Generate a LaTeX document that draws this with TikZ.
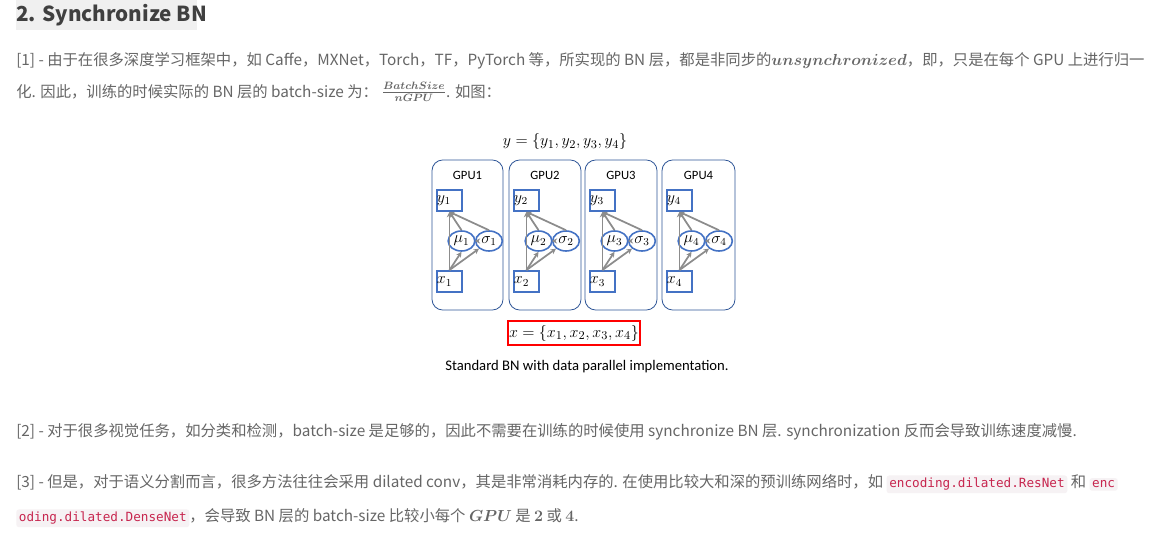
\documentclass[tikz,border=0pt]{standalone}
\usepackage{amsmath}
\usepackage{fontspec}
\setmainfont{Noto Sans CJK SC}
\newfontfamily\calfont{Carlito}
\setmonofont{DejaVu Sans Mono}
\usetikzlibrary{arrows.meta,shapes.geometric}
\definecolor{txt}{HTML}{666666}
\definecolor{bl}{HTML}{4472C4}
\definecolor{fr}{HTML}{2F5597}
\definecolor{codebg}{HTML}{F6F2F4}
\definecolor{codefg}{HTML}{C7254E}
\newcommand{\cd}[1]{\tikz[baseline=(c.base)]\node[fill=codebg,inner sep=2pt,rounded corners=2pt,text=codefg](c){\ttfamily\fontsize{9.5}{11}\selectfont #1};}
\tikzset{
 line/.style={anchor=west,text=txt,font=\fontsize{11.5}{13}\selectfont,inner sep=0},
 gpu/.style={draw=fr,rounded corners=8pt,line width=0.6pt},
 sq/.style={draw=bl,line width=1.2pt,minimum width=19pt,minimum height=16pt,inner sep=0},
 el/.style={draw=bl,line width=1.2pt,ellipse,minimum width=20pt,minimum height=15pt,inner sep=0},
 ar/.style={draw=gray!90,line width=1.3pt,-{Stealth[length=4pt,width=4pt]}},
 lab/.style={font=\fontsize{11.5}{13}\selectfont},
}
\begin{document}
\begin{tikzpicture}[x=0.75pt,y=-0.75pt]
\useasboundingbox (0,0) rectangle (1155,552);
\fill[white] (0,0) rectangle (1155,552);
\fill[gray!12] (16,0) rectangle (197,30);
\node[anchor=west,inner sep=0,text=black!75,font=\fontsize{15.5}{18}\selectfont\bfseries] (h) at (16,15) {2. Synchronize BN};
\node[line] (l1) at (16,61) {[1] - 由于在很多深度学习框架中，如 Caffe，MXNet，Torch，TF，PyTorch 等，所实现的 BN 层，都是非同步的$\boldsymbol{unsynchronized}$，即，只是在每个 GPU 上进行归一};
\node[line] (l2) at (16,92) {化. 因此，训练的时候实际的 BN 层的 batch-size 为：\ \raisebox{1pt}{$\tfrac{\boldsymbol{BatchSize}}{\boldsymbol{nGPU}}$}. 如图：};
% diagram
\node[font=\fontsize{12.5}{14}\selectfont] (ylab) at (565,142) {$y=\{y_1,y_2,y_3,y_4\}$};
\foreach \i/\x/\w in {1/432/71,2/509/72,3/585/72,4/662/73}{
 \draw[gpu] (\x,160) rectangle ++(\w,150);
 \node[font=\calfont\fontsize{9.5}{11}\selectfont] (g\i) at (\x+\w/2,175) {GPU\i};
 \node[sq,anchor=north west] (y\i) at (\x+4,189) {};
 \node[lab,anchor=west,inner sep=0.5pt] at (y\i.west) {$y_\i$};
 \node[sq,anchor=south west] (x\i) at (\x+4,293) {};
 \node[lab,anchor=west,inner sep=0.5pt] at (x\i.west) {$x_\i$};
 \node[el] (m\i) at (\x+29.5,241) {};
 \node[el] (s\i) at (\x+57,241) {};
 \node[lab] at (m\i) {$\mu_\i$};
 \node[lab] at (s\i) {$\sigma_\i$};
 \draw[ar] (x\i.north) -- (y\i.south);
 \draw[ar] (x\i.north) -- (m\i.south);
 \draw[ar] (x\i.north) -- (s\i.south west);
 \draw[ar] (m\i.east) -- (s\i.west);
 \draw[ar] (m\i.north) -- (y\i.south);
 \draw[ar] (s\i.north) -- (y\i.south);
}
\node[draw=red,line width=1.3pt,minimum width=96pt,minimum height=18pt,inner sep=1pt,font=\fontsize{12.5}{14}\selectfont] (xlab) at (574,333) {$x=\{x_1,x_2,x_3,x_4\}$};
\node[font=\calfont\fontsize{11}{13}\selectfont] (cap) at (587,367) {Standard BN with data parallel implementation.};
\node[line] (l3) at (16,432) {[2] - 对于很多视觉任务，如分类和检测，batch-size 是足够的，因此不需要在训练的时候使用 synchronize BN 层. synchronization 反而会导致训练速度减慢.};
\node[line] (l4) at (16,484) {[3] - 但是，对于语义分割而言，很多方法往往会采用 dilated conv，其是非常消耗内存的. 在使用比较大和深的预训练网络时，如 \cd{encoding.dilated.ResNet} 和 \cd{enc}};
\node[line] (l5) at (16,518) {\cd{oding.dilated.DenseNet}，会导致 BN 层的 batch-size 比较小每个 $\boldsymbol{GPU}$ 是 $\boldsymbol{2}$ 或 $\boldsymbol{4}$.};
\end{tikzpicture}
\end{document}
